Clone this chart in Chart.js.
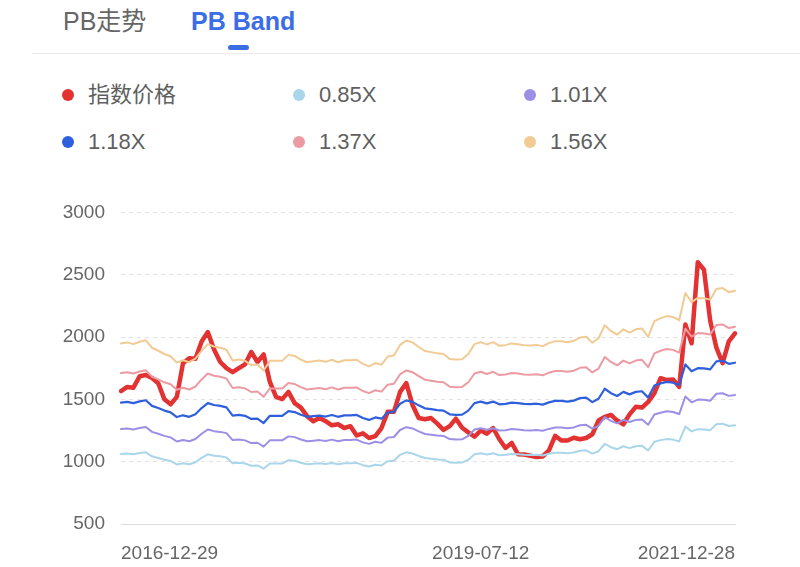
<!DOCTYPE html>
<html>
<head>
<meta charset="utf-8">
<script src="https://cdn.jsdelivr.net/npm/chart.js@4.4.0/dist/chart.umd.min.js"></script>
<style>
  html, body { margin: 0; padding: 0; background: #fff; }
  body {
    width: 800px; height: 567px; position: relative; overflow: hidden;
    font-family: "Liberation Sans", Arial, "Noto Sans CJK SC", sans-serif;
  }
  .tab { position: absolute; top: 6px; font-size: 25px; line-height: 30px; white-space: nowrap; }
  .tab.off { left: 63px; color: #666; }
  .tab.on { left: 191px; color: #3b6de6; font-weight: bold; }
  .tab-bar { position: absolute; left: 228px; top: 45px; width: 21px; height: 5px; border-radius: 3px; background: #3b6de6; }
  .sep { position: absolute; left: 32px; right: 0; top: 53px; height: 1px; background: #ececec; }
  .legend-item { position: absolute; font-size: 22px; line-height: 26px; color: #5f5f5f; white-space: nowrap; }
  .legend-dot { position: absolute; width: 12px; height: 12px; border-radius: 50%; }
  #wrap { position: absolute; left: 0; top: 185px; width: 760px; height: 382px; }
</style>
</head>
<body>
<div class="tab off">PB走势</div>
<div class="tab on">PB Band</div>
<div class="tab-bar"></div>
<div class="sep"></div>
<div id="legend"></div>
<div id="wrap"><canvas id="pbBandChart"></canvas></div>

<script>
  // tick labels on the x axis and the point index they sit on
  const tickLabels = ['2016-12-29', '2019-07-12', '2021-12-28'];
  const tickIndex  = [0, 58, 99];

  const seriesNames  = ['指数价格', '0.85X', '1.01X', '1.18X', '1.37X', '1.56X'];
  const seriesColors = ['#e23232', '#a9d6ea', '#9b8fe6', '#2e5fdc', '#ec9ba2', '#f1cb93'];

  const indexPrice = [1567,1600,1594,1685,1695,1672,1630,1500,1460,1520,
    1790,1830,1825,1965,2040,1900,1800,1750,1718,1750,
    1781,1880,1800,1860,1640,1520,1502,1560,1470,1434,
    1365,1325,1350,1325,1292,1300,1270,1285,1210,1228,
    1190,1205,1270,1400,1400,1560,1630,1455,1350,1340,
    1350,1305,1255,1285,1345,1272,1235,1200,1250,1225,
    1270,1180,1110,1150,1060,1058,1048,1038,1042,1090,
    1208,1170,1170,1192,1180,1190,1220,1330,1360,1375,
    1330,1300,1380,1440,1434,1480,1550,1670,1655,1660,
    1600,2100,1950,2600,2540,2130,1915,1790,1965,2030];

  const band085 = [1062,1066,1059,1069,1075,1043,1030,1016,1006,978,
    988,980,995,1030,1059,1048,1043,1034,987,991,
    985,967,970,944,985,985,985,1012,1007,991,
    980,983,987,981,990,980,988,988,990,972,
    962,976,969,1004,1008,1055,1075,1066,1046,1029,
    1024,1018,1016,994,991,993,1016,1059,1067,1057,
    1067,1052,1055,1062,1059,1055,1053,1055,1050,1063,
    1072,1072,1067,1073,1088,1091,1065,1084,1142,1116,
    1100,1124,1109,1124,1127,1091,1160,1173,1181,1177,
    1163,1282,1243,1261,1259,1253,1300,1304,1286,1292];

  const band101 = [1262,1267,1258,1270,1278,1239,1224,1207,1195,1162,
    1174,1164,1182,1224,1258,1245,1239,1229,1173,1178,
    1171,1149,1152,1121,1171,1171,1171,1203,1197,1178,
    1164,1168,1173,1166,1177,1164,1174,1174,1177,1155,
    1143,1160,1151,1193,1198,1254,1277,1267,1243,1222,
    1216,1210,1207,1181,1178,1179,1207,1258,1268,1256,
    1268,1250,1253,1262,1258,1253,1251,1254,1248,1263,
    1274,1274,1268,1275,1292,1296,1265,1288,1357,1327,
    1307,1335,1318,1335,1339,1296,1378,1393,1404,1399,
    1382,1523,1476,1498,1496,1489,1545,1549,1528,1535];

  const band118 = [1474,1480,1470,1484,1493,1448,1430,1410,1396,1358,
    1372,1360,1381,1430,1470,1455,1448,1436,1370,1376,
    1368,1343,1346,1310,1368,1368,1368,1405,1398,1376,
    1360,1365,1370,1362,1375,1360,1372,1372,1375,1350,
    1335,1355,1345,1394,1400,1465,1492,1480,1452,1428,
    1421,1414,1410,1380,1376,1378,1410,1470,1482,1468,
    1482,1460,1464,1474,1470,1464,1462,1465,1458,1476,
    1488,1488,1482,1490,1510,1514,1478,1505,1585,1550,
    1527,1560,1540,1560,1565,1514,1610,1628,1640,1634,
    1615,1780,1725,1750,1748,1740,1805,1810,1785,1794];

  const band137 = [1711,1718,1707,1723,1733,1681,1660,1637,1621,1577,
    1593,1579,1603,1660,1707,1689,1681,1667,1591,1598,
    1588,1559,1563,1521,1588,1588,1588,1631,1623,1598,
    1579,1585,1591,1581,1596,1579,1593,1593,1596,1567,
    1550,1573,1562,1618,1625,1701,1732,1718,1686,1658,
    1650,1642,1637,1602,1598,1600,1637,1707,1721,1704,
    1721,1695,1700,1711,1707,1700,1697,1701,1693,1714,
    1728,1728,1721,1730,1753,1758,1716,1747,1840,1800,
    1773,1811,1788,1811,1817,1758,1869,1890,1904,1897,
    1875,2067,2003,2032,2029,2020,2096,2101,2072,2083];

  const band156 = [1949,1957,1943,1962,1974,1914,1890,1864,1846,1795,
    1814,1798,1826,1890,1943,1924,1914,1898,1811,1819,
    1809,1775,1779,1732,1809,1809,1809,1857,1848,1819,
    1798,1805,1811,1801,1818,1798,1814,1814,1818,1785,
    1765,1791,1778,1843,1851,1937,1972,1957,1920,1888,
    1879,1869,1864,1824,1819,1822,1864,1943,1959,1941,
    1959,1930,1935,1949,1943,1935,1933,1937,1927,1951,
    1967,1967,1959,1970,1996,2002,1954,1990,2095,2049,
    2019,2062,2036,2062,2069,2002,2128,2152,2168,2160,
    2135,2353,2280,2314,2311,2300,2386,2393,2360,2372];

  const yTicks = [500, 1000, 1500, 2000, 2500, 3000];

  const FONT = '"Liberation Sans", Arial, "Noto Sans CJK SC", sans-serif';
  const TEXT = '#666';

  /* ─── Legend (3 columns, 2 rows) ─── */
  (function buildLegend() {
    const box = document.getElementById('legend');
    const cols = [68, 299, 530];
    const rows = [95, 142];
    seriesNames.forEach(function (name, i) {
      const cx = cols[i % 3], cy = rows[Math.floor(i / 3)];
      const dot = document.createElement('div');
      dot.className = 'legend-dot';
      dot.style.left = (cx - 6) + 'px';
      dot.style.top = (cy - 6) + 'px';
      dot.style.background = seriesColors[i];
      box.appendChild(dot);
      const txt = document.createElement('div');
      txt.className = 'legend-item';
      txt.style.left = (cx + 20) + 'px';
      txt.style.top = (cy - 13) + 'px';
      txt.textContent = name;
      box.appendChild(txt);
    });
  })();

  /* ─── Chart ─── */
  const labels = indexPrice.map(function (_, i) { return i; });
  const values = [indexPrice, band085, band101, band118, band137, band156];

  const datasets = values.map(function (data, i) {
    const isPrice = i === 0;
    return {
      label: seriesNames[i],
      data: data,
      borderColor: seriesColors[i],
      borderWidth: isPrice ? 4.5 : (i === 3 ? 2.2 : 2),
      borderJoinStyle: 'round',
      borderCapStyle: 'round',
      pointRadius: 0,
      tension: 0,
      fill: false,
      order: isPrice ? 10 : 0
    };
  });

  new Chart(document.getElementById('pbBandChart'), {
    type: 'line',
    data: { labels: labels, datasets: datasets },
    options: {
      responsive: true,
      maintainAspectRatio: false,
      animation: false,
      layout: { padding: { top: 16, right: 25, left: 0, bottom: 0 } },
      plugins: { legend: { display: false }, tooltip: { enabled: false } },
      scales: {
        x: {
          type: 'category',
          offset: false,
          grid: { display: false, drawTicks: false },
          border: { display: true, color: '#dcdcdc', width: 1 },
          afterBuildTicks: function (s) {
            s.ticks = s.ticks.filter(function (t) { return tickIndex.indexOf(t.value) >= 0; });
          },
          afterFit: function (s) { s.height = 43; },
          ticks: {
            autoSkip: false,
            maxRotation: 0,
            align: 'inner',
            padding: 18,
            color: TEXT,
            font: { family: FONT, size: 19 },
            callback: function (v) { return tickLabels[tickIndex.indexOf(v)]; }
          }
        },
        y: {
          min: 500,
          max: 3000,
          afterBuildTicks: function (s) {
            s.ticks = yTicks.map(function (v) { return { value: v }; });
          },
          afterFit: function (s) { s.width = 121; },
          grid: { color: '#e2e2e2', lineWidth: 1, drawTicks: false },
          border: { display: false, dash: [4, 4] },
          ticks: {
            padding: 16,
            color: TEXT,
            font: { family: FONT, size: 19 },
            callback: function (v) { return String(v); }
          }
        }
      }
    }
  });
</script>
</body>
</html>
